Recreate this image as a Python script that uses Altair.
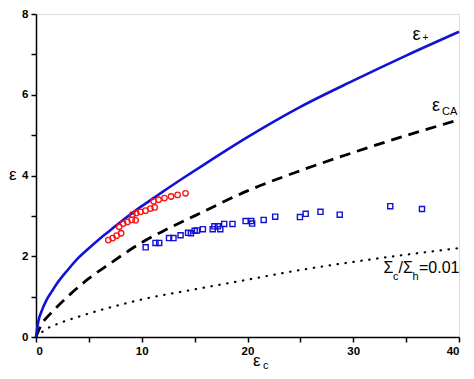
import altair as alt
import pandas as pd

# ---- data ----
plus_x = [0, 0.25, 0.5, 1, 1.5, 2, 3, 4, 5, 6, 7, 8, 9, 10, 11, 12, 14, 16, 20, 25, 30, 35, 40]
plus_y = [0, 0.42, 0.62, 0.92, 1.13, 1.33, 1.66, 1.96, 2.2, 2.43, 2.64, 2.85, 3.05,
          3.24, 3.42, 3.6, 3.95, 4.29, 4.95, 5.7, 6.35, 6.97, 7.56]

ca_x = [0, 0.5, 1.3, 2, 3.2, 5, 7, 10, 12, 15, 20, 25, 30, 35, 40]
ca_y = [0, 0.3, 0.56, 0.75, 1.05, 1.45, 1.82, 2.34, 2.62, 3.0, 3.62, 4.12, 4.57, 4.99, 5.38]

dot_x = [0, 1, 2, 4, 6, 8, 10, 15, 20, 25, 30, 35, 40]
dot_y = [0, 0.2, 0.32, 0.5, 0.66, 0.8, 0.93, 1.18, 1.42, 1.66, 1.86, 2.04, 2.2]

red_x = [6.84, 7.25, 7.62, 8.05, 7.87, 8.24, 8.64, 9.05, 9.42, 9.11, 9.48, 9.88, 10.35,
         10.82, 11.22, 11.12, 11.59, 12.15, 12.77, 13.39, 14.14]
red_y = [2.40, 2.45, 2.51, 2.57, 2.73, 2.81, 2.85, 2.90, 2.89, 3.03, 3.07, 3.10, 3.13,
         3.18, 3.21, 3.36, 3.40, 3.44, 3.48, 3.52, 3.56]

blue_x = [10.37, 11.3, 11.65, 12.58, 13.0, 13.67, 14.38, 14.65, 15.0, 15.22, 15.78, 16.71,
          16.87, 17.2, 17.43, 17.8, 18.58, 19.82, 20.35, 20.44, 21.53, 22.62, 24.96, 25.5,
          26.9, 28.72, 33.5, 36.5]
blue_y = [2.22, 2.33, 2.33, 2.45, 2.45, 2.52, 2.58, 2.57, 2.63, 2.64, 2.67, 2.67,
          2.74, 2.74, 2.67, 2.8, 2.8, 2.87, 2.87, 2.81, 2.9, 2.98, 2.97, 3.05,
          3.1, 3.03, 3.24, 3.17]

x_ticks = [0, 5, 10, 15, 20, 25, 30, 35, 40]
y_ticks = [0, 1, 2, 3, 4, 5, 6, 7, 8]

ann_text = ["ε", "+", "ε", "CA", "Σ", "c", "/", "Σ", "h", "=0.01"]
ann_x = [35.6, 36.55, 37.45, 38.4, 32.86, 33.76, 34.28, 34.70, 35.60, 36.22]
ann_y = [7.35, 7.32, 5.59, 5.50, 1.574, 1.41, 1.574, 1.574, 1.41, 1.574]
ann_fs = [18, 10, 18, 11, 16, 11, 16, 16, 11, 16]

FONT = "Liberation Sans"
BLUE = "#1212d4"

xscale = alt.Scale(domain=[0, 40], nice=False, zero=False)
yscale = alt.Scale(domain=[0, 8], nice=False, zero=False)

axis_common = dict(grid=False, title=None, domainColor="black", domainWidth=1.5,
                   tickColor="black", tickWidth=1.5, tickSize=5,
                   labelFont=FONT, labelFontWeight="bold", labelFontSize=11.5,
                   labelColor="black")

xaxis = alt.Axis(values=x_ticks, labelExpr="datum.value % 10 == 0 ? datum.label : ''",
                 labelPadding=3, **axis_common)
yaxis = alt.Axis(values=y_ticks, labelExpr="datum.value % 2 == 0 ? datum.label : ''",
                 labelPadding=3, **axis_common)

def curve(xs, ys, **kw):
    df = pd.DataFrame({"x": xs, "y": ys})
    return alt.Chart(df).mark_line(interpolate="monotone", **kw).encode(
        x=alt.X("x:Q", scale=xscale, axis=xaxis),
        y=alt.Y("y:Q", scale=yscale, axis=yaxis),
    )

plus_line = curve(plus_x, plus_y, color=BLUE, strokeWidth=2.6)
ca_line = curve(ca_x, ca_y, color="black", strokeWidth=2.8, strokeDash=[11, 7])
dot_line = curve(dot_x, dot_y, color="black", strokeWidth=2.2, strokeDash=[0.5, 7.5],
                 strokeCap="round")

red_pts = alt.Chart(pd.DataFrame({"x": red_x, "y": red_y})).mark_point(
    shape="circle", filled=False, color="#ff1010", size=30, strokeWidth=1.3, opacity=1
).encode(x=alt.X("x:Q", scale=xscale), y=alt.Y("y:Q", scale=yscale))

blue_pts = alt.Chart(pd.DataFrame({"x": blue_x, "y": blue_y})).mark_point(
    shape="square", filled=False, color=BLUE, size=26, strokeWidth=1.4, opacity=1
).encode(x=alt.X("x:Q", scale=xscale), y=alt.Y("y:Q", scale=yscale))

ann = alt.Chart(pd.DataFrame({"t": ann_text, "x": ann_x, "y": ann_y, "fs": ann_fs})).mark_text(
    align="left", baseline="alphabetic", font=FONT, color="black"
).encode(
    x=alt.X("x:Q", scale=xscale), y=alt.Y("y:Q", scale=yscale),
    text="t:N", size=alt.Size("fs:Q", scale=None, legend=None),
)

# axis titles (with subscript) placed in pixel space
xt1 = alt.Chart(pd.DataFrame({"t": ["ε"]})).mark_text(
    align="left", baseline="alphabetic", font=FONT, fontSize=17, color="black"
).encode(x=alt.value(217), y=alt.value(352), text="t:N")
xt2 = alt.Chart(pd.DataFrame({"t": ["c"]})).mark_text(
    align="left", baseline="alphabetic", font=FONT, fontSize=11, color="black"
).encode(x=alt.value(227), y=alt.value(355), text="t:N")
yt = alt.Chart(pd.DataFrame({"t": ["ε"]})).mark_text(
    align="left", baseline="alphabetic", font=FONT, fontSize=17, color="black"
).encode(x=alt.value(-27), y=alt.value(166), text="t:N")

chart = alt.layer(
    dot_line, ca_line, plus_line, blue_pts, red_pts, ann, xt1, xt2, yt
).properties(
    width=423, height=323,
    autosize=alt.AutoSizeParams(type="none"),
    padding={"left": 28, "top": 6, "right": 7, "bottom": 33},
).configure_view(stroke=None).configure(background="white")

chart.save("out.html", embed_options={"renderer": "svg", "actions": False})
